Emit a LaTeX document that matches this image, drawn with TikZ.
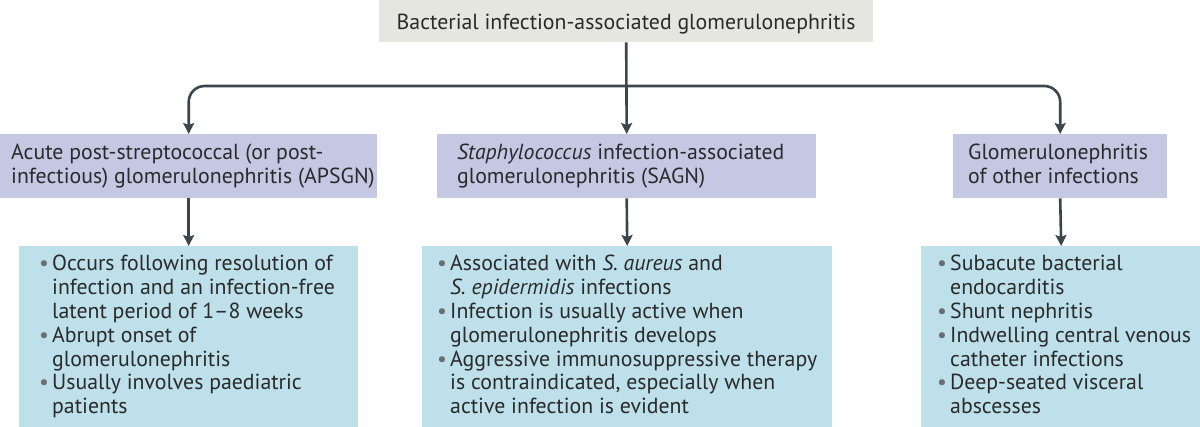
\documentclass[tikz,border=0pt]{standalone}
\usepackage{fontspec}
\setmainfont{PT Sans}
\usetikzlibrary{arrows.meta}
\definecolor{topgray}{HTML}{E6E6E1}
\definecolor{midpurple}{HTML}{C5C8E3}
\definecolor{lowblue}{HTML}{BDE0EA}
\definecolor{linedark}{HTML}{3B464C}
\definecolor{txt}{HTML}{2A2A2A}
\definecolor{bulgray}{HTML}{6E6E6E}
\newcommand{\bl}{\makebox[13pt][l]{\textcolor{bulgray}{\textbullet}}}
\begin{document}
\begin{tikzpicture}[x=1pt,y=-1pt,
  every node/.style={font=\fontsize{21.8}{23.8}\selectfont, text=txt},
  boxbase/.style={rectangle, draw=none, inner sep=0pt, anchor=north west},
  topbox/.style={boxbase, fill=topgray},
  catbox/.style={boxbase, fill=midpurple},
  listbox/.style={boxbase, fill=lowblue},
  txtblock/.style={inner sep=0pt, anchor=north west, align=left},
  conn/.style={draw=linedark, line width=2.6pt, -{Stealth[length=11pt,width=11pt,inset=2pt]}}
]
\useasboundingbox (0,0) rectangle (1200,427);
% top
\node[topbox, minimum width=494pt, minimum height=42pt] (top) at (379,0) {};
\node[inner sep=0pt] (toptxt) at ([yshift=-3pt]top.center) {Bacterial infection-associated glomerulonephritis};
% level 2
\node[catbox, minimum width=377pt, minimum height=64pt] (c1) at (0,134) {};
\node[catbox, minimum width=379pt, minimum height=64pt] (c2) at (437,134) {};
\node[catbox, minimum width=214pt, minimum height=64pt] (c3) at (953,134) {};
\node[txtblock] (t1) at (11,144) {Acute post-streptococcal (or post-\\infectious) glomerulonephritis (APSGN)};
\node[txtblock] (t2) at (457,144) {\textit{Staphylococcus} infection-associated\\glomerulonephritis (SAGN)};
\node[txtblock] (t3) at (968,144) {Glomerulonephritis\\of other infections};
% level 3
\node[listbox, minimum width=339pt, minimum height=182pt] (l1) at (19,246) {};
\node[listbox, minimum width=410pt, minimum height=182pt] (l2) at (422,246) {};
\node[listbox, minimum width=280pt, minimum height=182pt] (l3) at (921,246) {};
\node[txtblock] (u1) at (39,254) {\begin{tabular}{@{}l@{}l@{}}
\bl & Occurs following resolution of\\
 & infection and an infection-free\\
 & latent period of 1--8 weeks\\
\bl & Abrupt onset of\\
 & glomerulonephritis\\
\bl & Usually involves paediatric\\
 & patients
\end{tabular}};
\node[txtblock] (u2) at (437,254) {\begin{tabular}{@{}l@{}l@{}}
\bl & Associated with \textit{S.~aureus} and\\
 & \textit{S.~epidermidis} infections\\
\bl & Infection is usually active when\\
 & glomerulonephritis develops\\
\bl & Aggressive immunosuppressive therapy\\
 & is contraindicated, especially when\\
 & active infection is evident
\end{tabular}};
\node[txtblock] (u3) at (937,254) {\begin{tabular}{@{}l@{}l@{}}
\bl & Subacute bacterial\\
 & endocarditis\\
\bl & Shunt nephritis\\
\bl & Indwelling central venous\\
 & catheter infections\\
\bl & Deep-seated visceral\\
 & abscesses
\end{tabular}};
% connectors
\coordinate (hy) at (0,86);
\draw[conn] (top.south) -- (c2.north);
\draw[conn, rounded corners=16pt] (top.south |- hy) -- (c1.north |- hy) -- (c1.north);
\draw[conn, rounded corners=16pt] (top.south |- hy) -- (c3.north |- hy) -- (c3.north);
\draw[conn] (c1.south) -- (l1.north);
\draw[conn] (c2.south) -- (l2.north);
\draw[conn] (c3.south) -- (l3.north);
\end{tikzpicture}
\end{document}
